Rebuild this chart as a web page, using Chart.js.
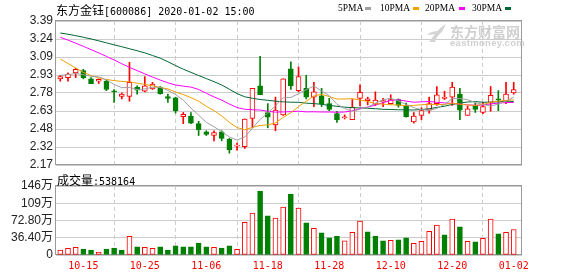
<!DOCTYPE html>
<html>
<head>
<meta charset="utf-8">
<script src="https://cdn.jsdelivr.net/npm/chart.js@4.4.1/dist/chart.umd.min.js"></script>
<style>
  html, body { margin: 0; padding: 0; background: #fff; }
  body { width: 578px; height: 276px; position: relative; overflow: hidden; }
  .txt { position: absolute; z-index: 3; white-space: nowrap; color: #000; line-height: 1; }
  .cjk { font-family: "Noto Sans CJK SC", sans-serif; font-size: 12px; }
  .mono { font-family: "DejaVu Sans Mono", monospace; font-size: 10px; }
  .leg { position: absolute; z-index: 3; font-family: "Liberation Serif", serif; font-size: 9.5px; top: 4px; line-height: 1; }
  .sq { position: absolute; z-index: 3; width: 6px; height: 3px; top: 7px; }
  .wm { position: absolute; z-index: 3; color: #d0d0d0; white-space: nowrap; line-height: 1; }
  #priceBox { position: absolute; left: 0; top: 0; width: 578px; height: 180px; }
  #volBox { position: absolute; left: 0; top: 171px; width: 578px; height: 105px; }
</style>
</head>
<body>
<div class="txt" style="left:56px;top:2px;"><span class="cjk">东方金钰</span><span class="mono">[600086] 2020-01-02 15:00</span></div>

<div class="leg" style="left:338px;">5PMA</div><div class="sq" style="left:365px;background:#a0a0a0;"></div>
<div class="leg" style="left:380px;">10PMA</div><div class="sq" style="left:413px;background:#f0a000;"></div>
<div class="leg" style="left:425px;">20PMA</div><div class="sq" style="left:459px;background:#ff00ff;"></div>
<div class="leg" style="left:472px;">30PMA</div><div class="sq" style="left:505px;background:#006633;"></div>

<svg class="wm" style="left:426px;top:22px;" width="22" height="22" viewBox="0 0 22 22">
  <path d="M3 20 C8 14 10 8 20 2 L16 10 C13 12 10 16 9 20 Z" fill="#d4d4d4"/>
  <path d="M1 13 C4 10 8 9 12 9 L10 12 C7 12 4 13 1 13 Z" fill="#d4d4d4"/>
</svg>
<div class="wm" style="left:450px;top:24px;font-family:'Noto Sans CJK SC',sans-serif;font-size:14px;font-weight:bold;">东方财富网</div>
<div class="wm" style="left:450px;top:38px;font-family:'Liberation Sans',sans-serif;font-size:9.5px;font-weight:bold;letter-spacing:0.3px;">eastmoney.com</div>

<div class="txt" style="left:57px;top:172px;"><span class="cjk">成交量</span><span class="mono">:538164</span></div>

<div id="priceBox"><canvas id="price"></canvas></div>
<div id="volBox"><canvas id="vol"></canvas></div>

<script>
// trading days shown on the chart
const dates = [
  '10-10','10-11','10-14','10-15','10-16','10-17','10-18','10-21','10-22','10-23',
  '10-24','10-25','10-28','10-29','10-30','10-31','11-01','11-04','11-05','11-06',
  '11-07','11-08','11-11','11-12','11-13','11-14','11-15','11-18','11-19','11-20',
  '11-21','11-22','11-25','11-26','11-27','11-28','11-29','12-02','12-03','12-04',
  '12-05','12-06','12-09','12-10','12-11','12-12','12-13','12-16','12-17','12-18',
  '12-19','12-20','12-23','12-24','12-25','12-26','12-27','12-30','12-31','01-02'
];

const open = [
  2.90, 2.91, 2.95, 2.97, 2.90, 2.88, 2.88, 2.795, 2.75, 2.75,
  2.83, 2.795, 2.815, 2.83, 2.75, 2.74, 2.58, 2.585, 2.52, 2.45,
  2.42, 2.45, 2.39, 2.33, 2.325, 2.565, 2.84, 2.615, 2.51, 2.595,
  2.985, 2.80, 2.82, 2.745, 2.755, 2.69, 2.605, 2.57, 2.555, 2.735,
  2.715, 2.685, 2.705, 2.69, 2.725, 2.675, 2.535, 2.59, 2.635, 2.69,
  2.735, 2.745, 2.77, 2.59, 2.675, 2.615, 2.70, 2.73, 2.71, 2.78
];
const high = [
  2.93, 2.95, 2.99, 2.98, 2.91, 2.90, 2.89, 2.81, 2.78, 3.04,
  2.84, 2.92, 2.87, 2.835, 2.77, 2.745, 2.615, 2.615, 2.54, 2.46,
  2.46, 2.46, 2.395, 2.355, 2.56, 2.82, 3.09, 2.69, 2.745, 2.90,
  3.045, 3.00, 2.93, 2.87, 2.82, 2.735, 2.625, 2.595, 2.725, 2.85,
  2.745, 2.79, 2.735, 2.765, 2.73, 2.695, 2.615, 2.655, 2.745, 2.835,
  2.795, 2.87, 2.82, 2.67, 2.695, 2.70, 2.835, 2.80, 2.87, 2.87
];
const low = [
  2.88, 2.88, 2.91, 2.90, 2.86, 2.86, 2.80, 2.70, 2.73, 2.71,
  2.77, 2.79, 2.81, 2.77, 2.70, 2.61, 2.52, 2.52, 2.42, 2.42,
  2.375, 2.375, 2.27, 2.295, 2.31, 2.485, 2.765, 2.485, 2.46, 2.59,
  2.81, 2.79, 2.73, 2.665, 2.665, 2.63, 2.53, 2.56, 2.555, 2.67,
  2.68, 2.675, 2.665, 2.685, 2.66, 2.575, 2.525, 2.555, 2.61, 2.675,
  2.725, 2.675, 2.555, 2.59, 2.615, 2.605, 2.625, 2.63, 2.69, 2.77
];
const close = [
  2.92, 2.94, 2.98, 2.91, 2.86, 2.895, 2.81, 2.79, 2.77, 2.87,
  2.805, 2.84, 2.855, 2.775, 2.735, 2.63, 2.60, 2.525, 2.47, 2.43,
  2.445, 2.395, 2.30, 2.335, 2.56, 2.82, 2.765, 2.575, 2.635, 2.90,
  2.84, 2.92, 2.745, 2.79, 2.69, 2.64, 2.555, 2.575, 2.66, 2.785,
  2.73, 2.72, 2.715, 2.725, 2.675, 2.58, 2.585, 2.63, 2.69, 2.765,
  2.745, 2.83, 2.635, 2.645, 2.64, 2.665, 2.76, 2.72, 2.77, 2.81
];

// volume in 万 (10k shares)
const volume = [
  10.6, 14.1, 16.2, 12.7, 10.6, 6.4, 12.7, 14.8, 10.6, 39.6,
  17.0, 16.2, 14.1, 17.0, 10.6, 19.1, 17.0, 17.0, 25.4, 17.0,
  16.2, 14.8, 19.1, 12.0, 69.2, 88.3, 134.9, 82.7, 77.7, 101.0,
  128.6, 98.9, 67.8, 56.5, 46.6, 36.0, 39.6, 29.7, 48.0, 71.4,
  48.7, 39.6, 29.7, 31.1, 31.8, 36.0, 24.7, 29.0, 50.2, 62.9,
  42.4, 75.6, 59.3, 29.0, 27.6, 35.3, 75.6, 44.5, 48.0, 53.8
];

const ma5 = [
  2.930, 2.935, 2.945, 2.935, 2.922, 2.917, 2.891, 2.853, 2.825, 2.827,
  2.809, 2.815, 2.828, 2.829, 2.802, 2.767, 2.719, 2.653, 2.592, 2.531,
  2.494, 2.453, 2.408, 2.381, 2.407, 2.482, 2.556, 2.611, 2.671, 2.739,
  2.743, 2.774, 2.808, 2.839, 2.797, 2.757, 2.684, 2.650, 2.624, 2.643,
  2.661, 2.694, 2.722, 2.735, 2.713, 2.683, 2.656, 2.639, 2.632, 2.650,
  2.683, 2.732, 2.733, 2.724, 2.699, 2.683, 2.669, 2.686, 2.711, 2.745
];
const ma10 = [
  3.068, 3.030, 2.992, 2.955, 2.928, 2.907, 2.895, 2.885, 2.878, 2.875,
  2.863, 2.853, 2.841, 2.827, 2.815, 2.788, 2.767, 2.741, 2.711, 2.667,
  2.631, 2.586, 2.531, 2.487, 2.469, 2.488, 2.505, 2.510, 2.526, 2.573,
  2.613, 2.665, 2.710, 2.755, 2.768, 2.750, 2.729, 2.729, 2.732, 2.720,
  2.709, 2.689, 2.686, 2.680, 2.678, 2.672, 2.675, 2.681, 2.684, 2.682,
  2.683, 2.694, 2.686, 2.678, 2.675, 2.683, 2.701, 2.710, 2.718, 2.722
];
const ma20 = [
  3.252, 3.228, 3.202, 3.175, 3.148, 3.120, 3.090, 3.060, 3.028, 2.997,
  2.970, 2.942, 2.915, 2.890, 2.866, 2.848, 2.838, 2.830, 2.810, 2.778,
  2.747, 2.720, 2.686, 2.657, 2.642, 2.638, 2.636, 2.625, 2.618, 2.620,
  2.622, 2.626, 2.620, 2.621, 2.619, 2.619, 2.617, 2.619, 2.629, 2.647,
  2.661, 2.677, 2.698, 2.717, 2.723, 2.711, 2.702, 2.705, 2.708, 2.701,
  2.696, 2.692, 2.686, 2.679, 2.676, 2.678, 2.688, 2.694, 2.699, 2.700
];
const ma30 = [
  3.288, 3.278, 3.266, 3.252, 3.238, 3.222, 3.205, 3.188, 3.172, 3.155,
  3.138, 3.120, 3.098, 3.075, 3.045, 3.012, 2.982, 2.955, 2.928, 2.902,
  2.876, 2.848, 2.812, 2.775, 2.748, 2.735, 2.725, 2.718, 2.711, 2.705,
  2.702, 2.701, 2.694, 2.690, 2.684, 2.675, 2.667, 2.660, 2.656, 2.653,
  2.651, 2.647, 2.642, 2.640, 2.638, 2.637, 2.636, 2.640, 2.647, 2.658,
  2.668, 2.683, 2.694, 2.704, 2.707, 2.702, 2.702, 2.706, 2.711, 2.708
];

// axis labels
const priceTicks = ['2.17', '2.32', '2.48', '2.63', '2.78', '2.93', '3.09', '3.24', '3.39'];
const volTicks = ['0', '36.40万', '72.80万', '109万', '146万'];
const xTickLabels = ['10-15', '10-25', '11-06', '11-18', '11-28', '12-10', '12-20', '01-02'];

const RED = '#ff0000';
const GREEN = '#008000';
const X_MIN = -0.56, X_MAX = 60.08;

const candleUp = close.map((c, i) => c >= open[i]);
const volUp = close.map((c, i) => i === 0 ? c >= open[0] : c >= close[i - 1]);

// draws the grey box round the plot area
const frame = {
  id: 'frame',
  beforeDatasetsDraw(chart) {
    const { ctx, chartArea: a } = chart;
    ctx.save();
    ctx.strokeStyle = '#999';
    ctx.lineWidth = 1;
    const l = Math.round(a.left) - 0.5, t = Math.round(a.top) - 0.5;
    ctx.strokeRect(l, t, Math.round(a.right) - Math.round(a.left), Math.round(a.bottom) - Math.round(a.top));
    ctx.restore();
  }
};

function xScale(showLabels) {
  return {
    type: 'linear',
    min: X_MIN,
    max: X_MAX,
    offset: false,
    afterBuildTicks(s) { s.ticks = xTickLabels.map(l => ({ value: dates.indexOf(l) })); },
    afterFit(s) { s.height = showLabels ? 21 : 0; },
    grid: { color: '#cccccc', drawTicks: false },
    border: { display: false, dash: [4, 3] },
    ticks: {
      display: showLabels,
      autoSkip: false,
      maxRotation: 0,
      padding: 5,
      color: RED,
      font: { family: 'DejaVu Sans Mono', size: 10 },
      callback: v => dates[v]
    }
  };
}

function maLine(label, values, color) {
  return {
    type: 'line',
    label,
    data: values.map((v, i) => ({ x: i, y: v })),
    borderColor: color,
    borderWidth: 1,
    pointRadius: 0,
    tension: 0,
    order: -1
  };
}

const pMin = parseFloat(priceTicks[0]);
const pMax = parseFloat(priceTicks[priceTicks.length - 1]);

new Chart(document.getElementById('price'), {
  type: 'bar',
  data: {
    datasets: [
      maLine('5PMA', ma5, '#a0a0a0'),
      maLine('10PMA', ma10, '#f0a000'),
      maLine('20PMA', ma20, '#ff00ff'),
      maLine('30PMA', ma30, '#006633'),
      {
        label: 'body',
        data: dates.map((d, i) => ({ x: i, y: [open[i], close[i]] })),
        backgroundColor: candleUp.map(u => u ? '#ffffff' : GREEN),
        borderColor: candleUp.map(u => u ? RED : GREEN),
        borderWidth: 1,
        borderSkipped: false,
        barThickness: 5,
        minBarLength: 1,
        grouped: false,
        order: 0
      },
      {
        label: 'wick',
        data: dates.map((d, i) => ({ x: i, y: [low[i], high[i]] })),
        backgroundColor: candleUp.map(u => u ? RED : GREEN),
        borderWidth: 0,
        barThickness: 1,
        grouped: false,
        order: 1
      }
    ]
  },
  options: {
    responsive: true,
    maintainAspectRatio: false,
    animation: false,
    layout: { padding: { top: 21, right: 56, bottom: 15, left: 0 } },
    plugins: { legend: { display: false }, tooltip: { enabled: false } },
    scales: {
      x: xScale(false),
      y: {
        min: pMin,
        max: pMax,
        afterBuildTicks(s) {
          s.ticks = priceTicks.map((t, k) => ({ value: pMin + k * (pMax - pMin) / (priceTicks.length - 1) }));
        },
        afterFit(s) { s.width = 56; },
        grid: { color: '#cccccc', drawTicks: false },
        border: { display: false },
        ticks: {
          autoSkip: false,
          padding: 3,
          color: '#222',
          font: { family: 'Liberation Sans', size: 12 },
          callback: (v, k) => priceTicks[k]
        }
      }
    }
  },
  plugins: [frame]
});

const vStep = parseFloat(volTicks[1]);

new Chart(document.getElementById('vol'), {
  type: 'bar',
  data: {
    datasets: [{
      label: 'volume',
      data: volume.map((v, i) => ({ x: i, y: v })),
      backgroundColor: volUp.map(u => u ? '#ffffff' : GREEN),
      borderColor: volUp.map(u => u ? RED : GREEN),
      borderWidth: 1,
      borderSkipped: false,
      barThickness: 5,
      grouped: false
    }]
  },
  options: {
    responsive: true,
    maintainAspectRatio: false,
    animation: false,
    layout: { padding: { top: 15, right: 56, bottom: 0, left: 0 } },
    plugins: { legend: { display: false }, tooltip: { enabled: false } },
    scales: {
      x: xScale(true),
      y: {
        min: 0,
        max: vStep * (volTicks.length - 1),
        afterBuildTicks(s) { s.ticks = volTicks.map((t, k) => ({ value: k * vStep })); },
        afterFit(s) { s.width = 56; },
        grid: { color: '#cccccc', drawTicks: false },
        border: { display: false },
        ticks: {
          autoSkip: false,
          padding: 3,
          color: '#222',
          font: { family: "'Liberation Sans', 'Noto Sans CJK SC'", size: 12 },
          callback: (v, k) => volTicks[k]
        }
      }
    }
  },
  plugins: [frame]
});
</script>
</body>
</html>
